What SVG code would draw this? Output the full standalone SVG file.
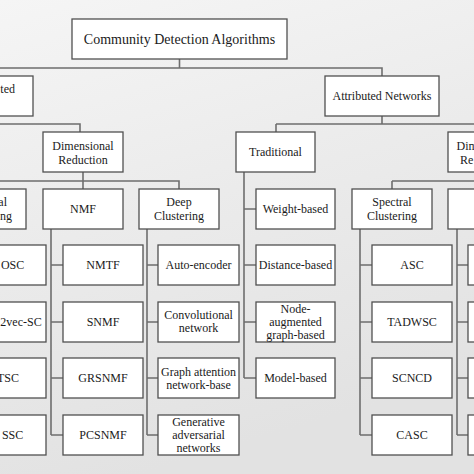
<svg xmlns="http://www.w3.org/2000/svg" width="474" height="474" viewBox="0 0 474 474">
<defs>
<linearGradient id="bg" x1="0" y1="0" x2="0.3" y2="1">
<stop offset="0" stop-color="#f5f5f5"/>
<stop offset="0.5" stop-color="#ebebeb"/>
<stop offset="1" stop-color="#e2e2e2"/>
</linearGradient>
<style>
.b{fill:#fff;stroke:#505050;stroke-width:1.3}
.c{fill:none;stroke:#6e6e6e;stroke-width:1.6}
text{font-family:"Liberation Serif","Times New Roman",serif;font-size:12px;fill:#1a1a1a;text-anchor:middle;dominant-baseline:central}
.e{text-anchor:end}
.s{text-anchor:start}
</style>
</defs>
<rect x="0" y="0" width="474" height="474" fill="url(#bg)"/>
<g id="connectors">
<path class="c" d="M179.5 59V68M-5 68H382V76"/>
<path class="c" d="M-5 124H80V132M382 116V124M276 124H480M276 124V132"/>
<path class="c" d="M83 172V189M-5 181H179V189M392 181H480M392 181V189"/>
<path class="c" d="M51 229V435M51 265H63M51 322H63M51 378H63M51 435H63"/>
<path class="c" d="M147 229V435M147 265H158M147 322H158M147 378H158M147 435H158"/>
<path class="c" d="M244 172V378M244 209H256M244 265H256M244 322H256M244 378H256"/>
<path class="c" d="M360 229V435M360 265H372M360 322H372M360 378H372M360 435H372"/>
<path class="c" d="M457 229V435M457 265H468M457 322H468M457 378H468M457 435H468"/>
</g>
<g id="root"><rect class="b" x="72" y="19" width="215" height="40"/><text x="179.5" y="39" style="font-size:14px">Community Detection Algorithms</text></g>
<g id="nonattributed"><rect class="b" x="-50" y="76" width="83" height="40"/><text class="e" x="15" y="89">ted</text></g>
<g id="attributed"><rect class="b" x="325" y="76" width="114" height="40"/><text x="382" y="96">Attributed Networks</text></g>
<g id="dimred-left"><rect class="b" x="43" y="132" width="80" height="40"/><text x="83" y="146">Dimensional</text><text x="83" y="159.5">Reduction</text></g>
<g id="traditional"><rect class="b" x="236" y="132" width="79" height="40"/><text x="275.5" y="152">Traditional</text></g>
<g id="dimred-right"><rect class="b" x="448" y="132" width="80" height="40"/><text class="s" x="456.5" y="146">Dim</text><text class="s" x="460" y="159.5">Re</text></g>
<g id="spectral-left"><rect class="b" x="-54" y="189" width="80" height="40"/><text class="e" x="7" y="202">al</text><text class="e" x="12" y="216">ng</text></g>
<g id="nmf"><rect class="b" x="43" y="189" width="80" height="40"/><text x="83" y="209">NMF</text></g>
<g id="deep"><rect class="b" x="139" y="189" width="80" height="40"/><text x="179" y="202">Deep</text><text x="179" y="216">Clustering</text></g>
<g id="weight"><rect class="b" x="256" y="189" width="79" height="40"/><text x="295.5" y="209">Weight-based</text></g>
<g id="spectral-right"><rect class="b" x="352" y="189" width="80" height="40"/><text x="392" y="202">Spectral</text><text x="392" y="216">Clustering</text></g>
<g id="right-cat"><rect class="b" x="448" y="189" width="80" height="40"/></g>
<g id="osc"><rect class="b" x="-34" y="245" width="80" height="40"/><text class="e" x="24.3" y="265">OSC</text></g>
<g id="n2v"><rect class="b" x="-34" y="302" width="80" height="40"/><text class="e" x="41.7" y="322">2vec-SC</text></g>
<g id="tsc"><rect class="b" x="-34" y="358" width="80" height="40"/><text class="e" x="19" y="378">TSC</text></g>
<g id="ssc"><rect class="b" x="-34" y="415" width="80" height="40"/><text class="e" x="23.3" y="435">SSC</text></g>
<g id="nmtf"><rect class="b" x="63" y="245" width="80" height="40"/><text x="103" y="265">NMTF</text></g>
<g id="snmf"><rect class="b" x="63" y="302" width="80" height="40"/><text x="103" y="322">SNMF</text></g>
<g id="grsnmf"><rect class="b" x="63" y="358" width="80" height="40"/><text x="103" y="378">GRSNMF</text></g>
<g id="pcsnmf"><rect class="b" x="63" y="415" width="80" height="40"/><text x="103" y="435">PCSNMF</text></g>
<g id="autoenc"><rect class="b" x="158" y="245" width="81" height="40"/><text x="198.5" y="265">Auto-encoder</text></g>
<g id="conv"><rect class="b" x="158" y="302" width="81" height="40"/><text x="198.5" y="315">Convolutional</text><text x="198.5" y="328">network</text></g>
<g id="gat"><rect class="b" x="158" y="358" width="81" height="40"/><text x="198.5" y="371.5">Graph attention</text><text x="198.5" y="384.5">network-base</text></g>
<g id="gan"><rect class="b" x="158" y="415" width="81" height="40"/><text x="198.5" y="422">Generative</text><text x="198.5" y="435">adversarial</text><text x="198.5" y="448">networks</text></g>
<g id="distance"><rect class="b" x="256" y="245" width="79" height="40"/><text x="295.5" y="265">Distance-based</text></g>
<g id="nodeaug"><rect class="b" x="256" y="302" width="79" height="40"/><text x="295.5" y="309">Node-</text><text x="295.5" y="321.5">augmented</text><text x="295.5" y="334.5">graph-based</text></g>
<g id="model"><rect class="b" x="256" y="358" width="79" height="40"/><text x="295.5" y="378">Model-based</text></g>
<g id="asc"><rect class="b" x="372" y="245" width="80" height="40"/><text x="412" y="265">ASC</text></g>
<g id="tadwsc"><rect class="b" x="372" y="302" width="80" height="40"/><text x="412" y="322">TADWSC</text></g>
<g id="scncd"><rect class="b" x="372" y="358" width="80" height="40"/><text x="412" y="378">SCNCD</text></g>
<g id="casc"><rect class="b" x="372" y="415" width="80" height="40"/><text x="412" y="435">CASC</text></g>
<g id="r2"><rect class="b" x="468" y="245" width="80" height="40"/></g>
<g id="r3"><rect class="b" x="468" y="302" width="80" height="40"/></g>
<g id="r4"><rect class="b" x="468" y="358" width="80" height="40"/></g>
<g id="r5"><rect class="b" x="468" y="415" width="80" height="40"/></g>
</svg>
